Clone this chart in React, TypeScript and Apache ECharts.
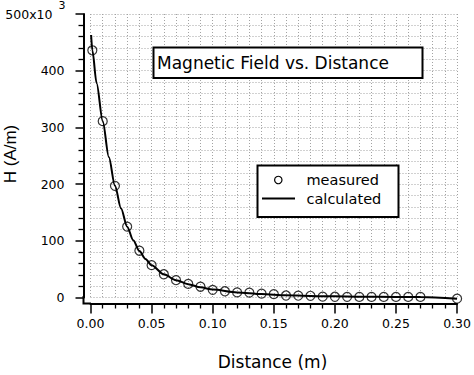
import React, { useEffect, useRef } from "react";
import * as echarts from "echarts";

// Measured points (distance in m, H in 10^3 A/m)
const measuredX = [0.0015, 0.01, 0.02, 0.03, 0.04, 0.05, 0.06, 0.07, 0.08, 0.09, 0.10, 0.11, 0.12, 0.13, 0.14, 0.15, 0.16, 0.17, 0.18, 0.19, 0.20, 0.21, 0.22, 0.23, 0.24, 0.25, 0.26, 0.27, 0.30];
const measuredH = [436, 311, 197, 125, 82.5, 57, 41, 30.5, 24, 19, 13.5, 11, 9, 8.5, 6.8, 6, 3.5, 3.2, 3, 1.5, 1.3, 1.2, 1.1, 1, 1, 1, 1, 1, -2];

// Calculated curve
const calcX = [0.0005, 0.0015, 0.005, 0.01, 0.015, 0.02, 0.025, 0.03, 0.035, 0.04, 0.045, 0.05, 0.06, 0.07, 0.08, 0.09, 0.10, 0.12, 0.14, 0.16, 0.18, 0.20, 0.22, 0.25, 0.27, 0.30];
const calcH = [463, 436, 378, 311, 248, 197, 157, 125, 101, 82, 68, 57, 41, 30.5, 23.5, 18, 14, 9, 6, 4, 2.8, 2, 1.5, 1, 0.8, -2];

const xTicks = ["0.00", "0.05", "0.10", "0.15", "0.20", "0.25", "0.30"];
const yTicks = ["0", "100", "200", "300", "400", "500x10"];

const titleText = "Magnetic Field vs. Distance";
const legendNames = ["measured", "calculated"];

const FONT = "DejaVu Sans";

export default function App() {
  const ref = useRef<HTMLDivElement>(null);
  useEffect(() => {
    if (!ref.current) return;
    const chart = echarts.init(ref.current, undefined, { renderer: "svg" });
    const grid = "#a3a3a3";
    const option: any = {
      animation: false,
      backgroundColor: "#fff",
      grid: { left: 90.5, right: 10, top: 14, bottom: 77.5, containLabel: false },
      xAxis: {
        type: "value",
        min: 0,
        max: 0.3,
        interval: 0.05,
        offset: 6,
        axisLine: { show: true, onZero: false, lineStyle: { color: "#000", width: 2 } },
        axisTick: { show: true, inside: false, length: 10, lineStyle: { color: "#000", width: 1.5 } },
        minorTick: { show: true, splitNumber: 5, length: 5, lineStyle: { color: "#000", width: 1.3 } },
        splitLine: { show: true, lineStyle: { color: grid, type: [1, 2], width: 1 } },
        minorSplitLine: { show: true, lineStyle: { color: grid, type: [1, 2], width: 1 } },
        axisLabel: {
          margin: 13,
          color: "#000",
          fontFamily: FONT,
          fontSize: 12.5,
          formatter: (v: number) => xTicks[Math.round(v / 0.05)] ?? "",
        },
      },
      yAxis: {
        type: "value",
        min: 0,
        max: 500,
        interval: 100,
        offset: 7,
        axisLine: { show: true, onZero: false, lineStyle: { color: "#000", width: 2 } },
        axisTick: { show: true, inside: false, length: 8, lineStyle: { color: "#000", width: 1.5 } },
        minorTick: { show: true, splitNumber: 5, length: 5, lineStyle: { color: "#000", width: 1.3 } },
        splitLine: { show: true, lineStyle: { color: grid, type: [1, 2], width: 1 } },
        minorSplitLine: { show: true, lineStyle: { color: grid, type: [1, 2], width: 1 } },
        axisLabel: {
          margin: 19,
          color: "#000",
          fontFamily: FONT,
          fontSize: 12.5,
          formatter: (v: number) => {
            const i = Math.round(v / 100);
            return i === 5 ? "{m|" + yTicks[i] + "}" : yTicks[i] ?? "";
          },
          rich: { m: { fontFamily: FONT, fontSize: 12.5, color: "#000", padding: [0, 12, 0, 0] } },
        },
      },
      series: [
        {
          name: legendNames[1],
          type: "line",
          data: calcX.map((x, i) => [x, calcH[i]]),
          showSymbol: false,
          smooth: 0.3,
          smoothMonotone: "x",
          clip: false,
          lineStyle: { color: "#000", width: 2 },
          z: 2,
        },
        {
          name: legendNames[0],
          type: "scatter",
          data: measuredX.map((x, i) => [x, measuredH[i]]),
          symbol: "circle",
          symbolSize: 9,
          clip: false,
          itemStyle: { color: "rgba(0,0,0,0)", borderColor: "#000", borderWidth: 1.2 },
          z: 3,
        },
      ],
      graphic: [
        // axis corner join
        { type: "polyline", shape: { points: [[83.5, 296], [83.5, 303.5], [91, 303.5]] }, style: { stroke: "#000", lineWidth: 2, fill: null }, z: 10 },
        // superscript exponent
        { type: "text", x: 62, y: 5.5, style: { text: "3", fontFamily: FONT, fontSize: 11, fill: "#000", align: "center", verticalAlign: "middle" }, z: 10 },
        // title box
        { type: "rect", shape: { x: 153.5, y: 47.5, width: 269, height: 30.5 }, style: { fill: "#fff", stroke: "#000", lineWidth: 2 }, z: 20 },
        { type: "text", x: 157, y: 63, style: { text: titleText, fontFamily: FONT, fontSize: 17, fill: "#000", verticalAlign: "middle" }, z: 21 },
        // legend box
        { type: "rect", shape: { x: 257.5, y: 165.5, width: 141, height: 51.5 }, style: { fill: "#fff", stroke: "#000", lineWidth: 2 }, z: 20 },
        { type: "circle", shape: { cx: 278.3, cy: 180, r: 3.7 }, style: { fill: "none", stroke: "#000", lineWidth: 1.2 }, z: 21 },
        { type: "line", shape: { x1: 262, y1: 198.5, x2: 295, y2: 198.5 }, style: { stroke: "#000", lineWidth: 2 }, z: 21 },
        { type: "text", x: 306.5, y: 180, style: { text: legendNames[0], fontFamily: FONT, fontSize: 14.5, fill: "#000", verticalAlign: "middle" }, z: 21 },
        { type: "text", x: 306.5, y: 199, style: { text: legendNames[1], fontFamily: FONT, fontSize: 14.5, fill: "#000", verticalAlign: "middle" }, z: 21 },
        // axis titles
        { type: "text", x: 272.5, y: 362, style: { text: "Distance (m)", fontFamily: FONT, fontSize: 17, fill: "#000", align: "center", verticalAlign: "middle" }, z: 10 },
        { type: "text", x: 10, y: 154, rotation: Math.PI / 2, style: { text: "H (A/m)", fontFamily: "Liberation Sans", fontSize: 17, fill: "#000", align: "center", verticalAlign: "middle" }, z: 10 },
      ],
    };
    chart.setOption(option);
    return () => chart.dispose();
  }, []);
  return <div ref={ref} style={{ position: "fixed", left: 0, top: 0, width: 474, height: 375 }} />;
}
